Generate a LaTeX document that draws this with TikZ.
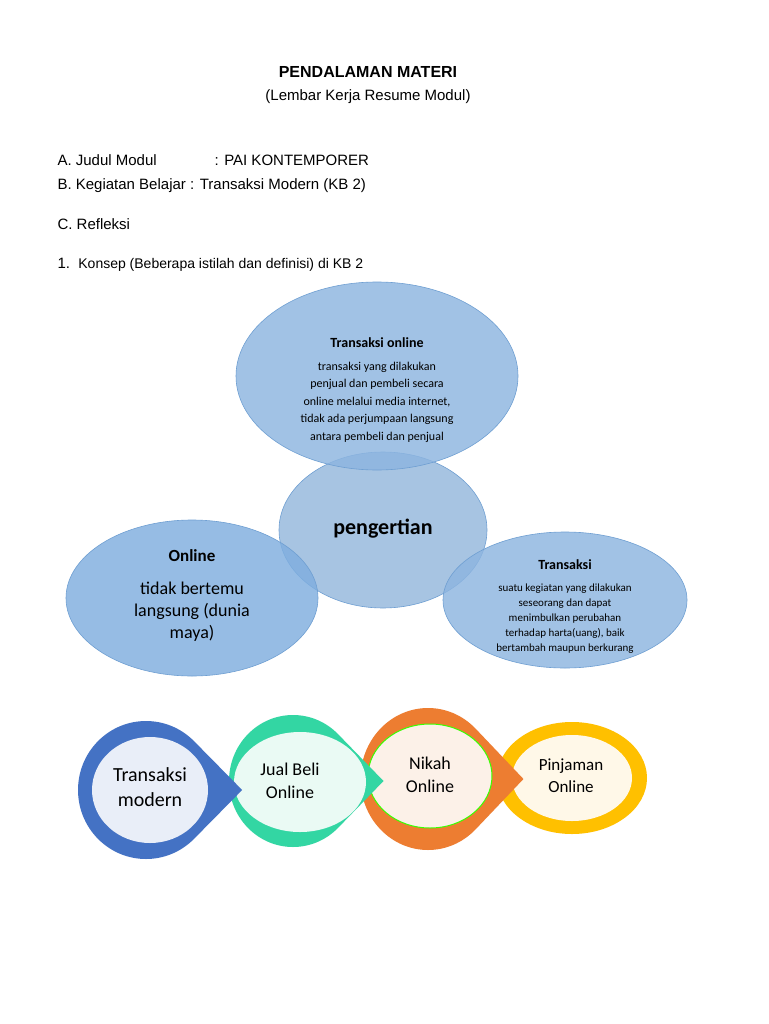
\documentclass[tikz,border=0pt]{standalone}
\usepackage{fontspec}
\setmainfont{Liberation Sans}
\newfontfamily\calfont{Carlito}
\definecolor{bluea}{HTML}{4472C4}
\definecolor{blueb}{HTML}{E9EEF8}
\definecolor{teala}{HTML}{33D6A3}
\definecolor{tealb}{HTML}{EAFAF4}
\definecolor{orga}{HTML}{ED7D31}
\definecolor{orgb}{HTML}{FCF1E8}
\definecolor{yela}{HTML}{FFC000}
\definecolor{yelb}{HTML}{FFF8E8}
\definecolor{ellA}{HTML}{8DB5E0}
\definecolor{ellB}{HTML}{A7C4E2}
\definecolor{ellC}{HTML}{7FAEDF}
\definecolor{ellD}{HTML}{6F9FD2}
\tikzset{
  hdr/.style={anchor=west,font=\fontsize{15}{18}\selectfont},
  tl/.style={align=center,font=\calfont\fontsize{12}{17.5}\selectfont},
  bt/.style={align=center,font=\calfont\fontsize{18}{23}\selectfont},
  bigell/.style={draw=ellD,line width=0.6pt,fill opacity=0.82}
}
\newcommand{\tear}[5]{% cx cy rx ry color
  \begin{scope}[shift={(#1,#2)},xscale=#3,yscale=#4]
  \fill[#5] (1.4142,0) -- (0.7071,0.7071) arc[start angle=45,end angle=315,radius=1] -- cycle;
  \end{scope}}
\begin{document}
\begin{tikzpicture}[x=1pt,y=-1pt]
\useasboundingbox[fill=white] (0,0) rectangle (768,1024);
\node[font=\bfseries\fontsize{16}{19}\selectfont] (title) at (368,72) {PENDALAMAN MATERI};
\node[font=\fontsize{15}{18}\selectfont] (sub) at (368,97) {(Lembar Kerja Resume Modul)};
\node[hdr] (a) at (54,160) {A. Judul Modul};
\node[hdr] (a2) at (211,160) {: PAI KONTEMPORER};
\node[hdr] (b) at (54,186) {B. Kegiatan Belajar : Transaksi Modern (KB 2)};
\node[hdr] (c) at (54,224) {C. Refleksi};
\node[hdr] (d) at (54,265) {1.\ \ \fontsize{14}{17}\selectfont Konsep (Beberapa istilah dan definisi) di KB 2};
% upper cluster
\draw[bigell,fill=ellB,fill opacity=1] (383,530) ellipse[x radius=104,y radius=78];
\node[font=\calfont\bfseries\fontsize{22}{26}\selectfont] (peng) at (383,529) {pengertian};
\draw[bigell,fill=ellA] (377,376) ellipse[x radius=141,y radius=94];
\node[font=\calfont\bfseries\fontsize{14}{17}\selectfont] (t1) at (377,343) {Transaksi online};
\node[tl] (t1b) at (377,402) {transaksi yang dilakukan\\penjual dan pembeli secara\\online melalui media internet,\\tidak ada perjumpaan langsung\\antara pembeli dan penjual};
\draw[bigell,fill=ellC] (192,598) ellipse[x radius=126,y radius=78];
\node[font=\calfont\bfseries\fontsize{17}{20}\selectfont] (o1) at (192,556) {Online};
\node[align=center,font=\calfont\fontsize{18}{22}\selectfont] (o1b) at (192,612) {tidak bertemu\\langsung (dunia\\maya)};
\draw[bigell,fill=ellA] (565,600) ellipse[x radius=122,y radius=68];
\node[font=\calfont\bfseries\fontsize{14}{17}\selectfont] (t2) at (565,565) {Transaksi};
\node[align=center,font=\calfont\fontsize{11}{15}\selectfont] (t2b) at (565,619) {suatu kegiatan yang dilakukan\\seseorang dan dapat\\menimbulkan perubahan\\terhadap harta(uang), baik\\bertambah maupun berkurang};
% bottom chain
\fill[yela] (572,778) ellipse[x radius=75,y radius=56];
\fill[yelb] (572,778) ellipse[x radius=60,y radius=43];
\node[bt,font=\calfont\fontsize{17}{22}\selectfont] (p4) at (571,776) {Pinjaman\\Online};
\tear{428}{779}{67.5}{71}{orga}
\draw[fill=orgb,draw=green!70!lime,line width=1pt] (430,776) ellipse[x radius=62,y radius=52];
\node[bt] (p3) at (430,775) {Nikah\\Online};
\tear{293}{781}{64}{66}{teala}
\fill[tealb] (300,782) ellipse[x radius=66,y radius=50];
\node[bt] (p2) at (290,781) {Jual Beli\\Online};
\tear{146}{790}{68}{69}{bluea}
\fill[blueb] (150,790) ellipse[x radius=58,y radius=53];
\node[bt,font=\calfont\fontsize{20}{25}\selectfont] (p1) at (150,787) {Transaksi\\modern};
\end{tikzpicture}
\end{document}
